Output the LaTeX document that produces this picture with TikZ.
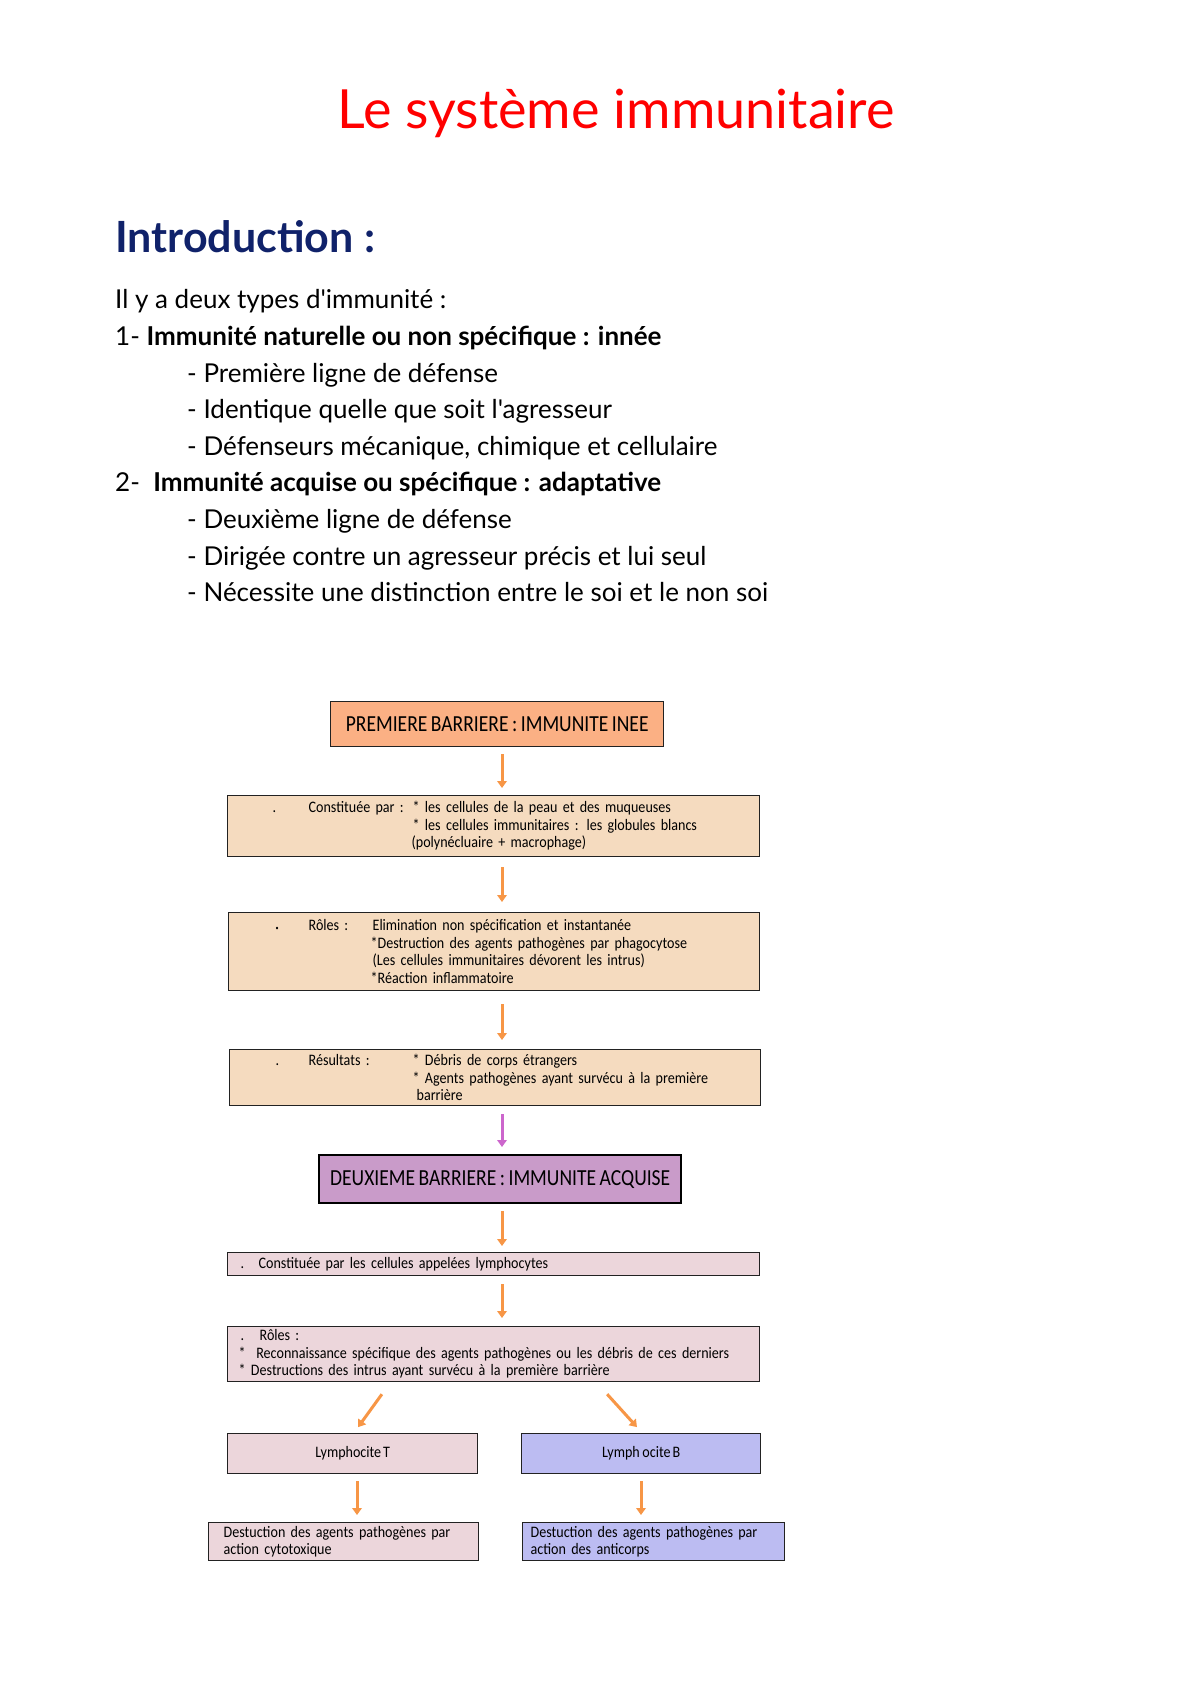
\documentclass[tikz,border=0pt]{standalone}
\usepackage{fontspec}
\setmainfont{Lato}
\newfontfamily\introfont{Lato}
\newfontfamily\boxfont{Carlito}[FakeStretch=0.88,WordSpace=0.6]
\newfontfamily\capfont{Carlito}[FakeStretch=0.85,WordSpace=0.8]
\usetikzlibrary{arrows.meta}
\definecolor{titlered}{HTML}{FF0000}
\definecolor{navy}{HTML}{10226A}
\definecolor{orangeA}{HTML}{FBB084}
\definecolor{peach}{HTML}{F5DBBF}
\definecolor{lilac}{HTML}{C99BC9}
\definecolor{pinkA}{HTML}{ECD6DB}
\definecolor{blueA}{HTML}{BCBCF2}
\definecolor{arrorange}{HTML}{F79646}
\definecolor{arrmag}{HTML}{CC66CC}
\definecolor{edge}{HTML}{222222}
\tikzset{
  intro/.style={anchor=base west, inner sep=0pt, font=\introfont\fontsize{26}{30}\selectfont},
  box/.style={draw=edge, line width=1.3pt, anchor=north west, inner sep=0pt,
    align=left, font=\boxfont\fontsize{16}{17.5}\selectfont},
  capbox/.style={draw=edge, line width=1.4pt, anchor=north west, inner sep=0pt,
    align=center, font=\capfont\fontsize{23}{24}\selectfont},
  arr/.style={draw=arrorange, line width=3pt, -{Triangle[width=9.5pt,length=7pt]}},
  marr/.style={arr, draw=arrmag},
}
\begin{document}
\begin{tikzpicture}[x=1pt,y=-1pt]
\useasboundingbox[fill=white] (0,0) rectangle (1200,1698);

% Title and introduction
\node[anchor=base, inner sep=0pt, text=titlered, font=\introfont\fontsize{54}{58}\selectfont] (title) at (616,128) {Le système immunitaire};
\node[anchor=base west, inner sep=0pt, text=navy, font=\introfont\bfseries\fontsize{43}{46}\selectfont] (intro) at (115,252) {Introduction :};
\node[intro] (l0) at (115,308) {Il y a deux types d'immunité :};
\node[intro] (l1) at (115,345) {1- \textbf{Immunité naturelle ou non spécifique : innée}};
\node[intro] (l2) at (187,382) {- Première ligne de défense};
\node[intro] (l3) at (187,418) {- Identique quelle que soit l'agresseur};
\node[intro] (l4) at (187,455) {- Défenseurs mécanique, chimique et cellulaire};
\node[intro] (l5) at (115,491) {2-\ \ \textbf{Immunité acquise ou spécifique : adaptative}};
\node[intro] (l6) at (187,528) {- Deuxième ligne de défense};
\node[intro] (l7) at (187,565) {- Dirigée contre un agresseur précis et lui seul};
\node[intro] (l8) at (187,601) {- Nécessite une distinction entre le soi et le non soi};

% Flowchart
\coordinate (ax) at (502,0);
\node[capbox, fill=orangeA, minimum width=333pt, minimum height=45pt] (b1) at (330,701) {PREMIERE BARRIERE : IMMUNITE INEE};

\node[box, fill=peach, text width=532pt, minimum height=61pt] (b2) at (227,795)
 {\hspace*{45pt}\makebox[36pt][l]{.}\makebox[104pt][l]{Constituée par :}* les cellules de la peau et des muqueuses\\
  \hspace*{185pt}* les cellules immunitaires : les globules blancs\\
  \hspace*{184pt}(polynécluaire + macrophage)};

\node[box, fill=peach, text width=531pt, minimum height=78pt] (b3) at (228,912)
 {\hspace*{47pt}\makebox[33pt][l]{\scriptsize•}\makebox[64pt][l]{Rôles :}Elimination non spécification et instantanée\\
  \hspace*{142pt}*Destruction des agents pathogènes par phagocytose\\
  \hspace*{144pt}(Les cellules immunitaires dévorent les intrus)\\
  \hspace*{142pt}*Réaction inflammatoire};

\node[box, fill=peach, text width=531pt, minimum height=56pt] (b4) at (229,1049)
 {\hspace*{46pt}\makebox[33pt][l]{.}\makebox[104pt][l]{Résultats :}* Débris de corps étrangers\\
  \hspace*{183pt}* Agents pathogènes ayant survécu à la première\\
  \hspace*{187pt}barrière};

\node[capbox, fill=lilac, line width=2.4pt, draw=black, minimum width=362pt, minimum height=48pt] (b5) at (318,1154) {DEUXIEME BARRIERE : IMMUNITE ACQUISE};

\node[box, fill=pinkA, text width=532pt, minimum height=23pt] (b6) at (227,1252)
 {\hspace*{13pt}\makebox[18pt][l]{.}Constituée par les cellules appelées lymphocytes};

\node[box, fill=pinkA, text width=532pt, minimum height=55pt] (b7) at (227,1326)
 {\hspace*{13pt}\makebox[19pt][l]{.}Rôles :\\
  \hspace*{11pt}*\ \ Reconnaissance spécifique des agents pathogènes ou les débris de ces derniers\\
  \hspace*{11pt}* Destructions des intrus ayant survécu à la première barrière};

\node[box, fill=pinkA, align=center, minimum width=250pt, minimum height=40pt] (b8) at (227,1433) {Lymphocite T};
\node[box, fill=blueA, align=center, minimum width=239pt, minimum height=40pt] (b9) at (521,1433) {Lymph\,ocite B};

\node[box, fill=pinkA, text width=270pt, minimum height=38pt] (b10) at (208,1522)
 {\hspace*{15pt}Destuction des agents pathogènes par\\ \hspace*{15pt}action cytotoxique};
\node[box, fill=blueA, text width=262pt, minimum height=38pt] (b11) at (522,1522)
 {\hspace*{8pt}Destuction des agents pathogènes par\\ \hspace*{8pt}action des anticorps};

% connectors
\draw[arr, shorten <=7pt, shorten >=7pt] (b1.south -| ax) -- (b2.north -| ax);
\draw[arr, shorten <=10pt, shorten >=10pt] (b2.south -| ax) -- (b3.north -| ax);
\draw[arr, shorten <=13pt, shorten >=9pt] (b3.south -| ax) -- (b4.north -| ax);
\draw[marr, shorten <=8pt, shorten >=7pt] (b4.south -| ax) -- (b5.north -| ax);
\draw[arr, shorten <=7pt, shorten >=6pt] (b5.south -| ax) -- (b6.north -| ax);
\draw[arr, shorten <=8pt, shorten >=8pt] (b6.south -| ax) -- (b7.north -| ax);

\coordinate (dl1) at (390.5,0);
\coordinate (dl2) at (353.8,0);
\coordinate (dr1) at (596.4,0);
\coordinate (dr2) at (642.3,0);
\draw[arr, shorten <=14.7pt, shorten >=7.3pt] (b7.south -| dl1) -- (b8.north -| dl2);
\draw[arr, shorten <=16pt, shorten >=8pt] (b7.south -| dr1) -- (b9.north -| dr2);

\coordinate (axl) at (357,0);
\coordinate (axr) at (641,0);
\draw[arr, shorten <=7pt, shorten >=7pt] (b8.south -| axl) -- (b10.north -| axl);
\draw[arr, shorten <=7pt, shorten >=7pt] (b9.south -| axr) -- (b11.north -| axr);
\end{tikzpicture}
\end{document}
